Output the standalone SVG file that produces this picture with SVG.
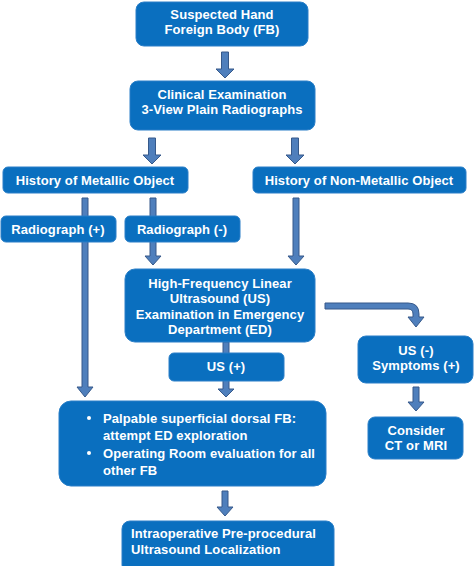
<svg xmlns="http://www.w3.org/2000/svg" width="474" height="566" viewBox="0 0 474 566">
<style>
.box{fill:#0a6fbf;stroke:#2a7fc8;stroke-width:1}
.t{font-family:"Liberation Sans",Arial,sans-serif;font-weight:bold;font-size:13px;letter-spacing:0.1px;fill:#ffffff;text-anchor:middle}
.tl{text-anchor:start}
.arr{fill:#4f7fbc;stroke:#36598a;stroke-width:1}
</style>
<rect width="474" height="566" fill="#ffffff"/>
<g id="connectors">
<path class="arr" d="M221.5,52 H228.5 V69 H234 L225,78 L216,69 H221.5 Z"/>
<path class="arr" d="M148.5,138 H155.5 V155 H161 L152,164 L143,155 H148.5 Z"/>
<path class="arr" d="M291.5,138 H298.5 V155 H304 L295,164 L286,155 H291.5 Z"/>
<path class="arr" d="M82,198 H88 V387 H93 L85,397 L77,387 H82 Z"/>
<path class="arr" d="M150,198 H156 V256 H161 L153,265 L145,256 H150 Z"/>
<path class="arr" d="M293,198 H299 V256 H304 L296,265 L288,256 H293 Z"/>
<path class="arr" d="M223,342 H229 V389 H234 L226,397 L218,389 H223 Z"/>
<path class="arr" d="M325,303 H408 Q419,303 419,314 V317 H424 L416,327 L408,317 H413 V314 Q413,309 408,309 H325 Z"/>
<path class="arr" d="M413,387 H419 V402 H424 L416,411 L408,402 H413 Z"/>
<path class="arr" d="M222,491 H228 V507 H233 L225,516 L217,507 H222 Z"/>
</g>
<g id="n1"><rect class="box" x="136" y="2" width="172" height="44" rx="8"/>
<text class="t" x="222" y="18.5">Suspected Hand</text><text class="t" x="222" y="33.5">Foreign Body (FB)</text></g>
<g id="n2"><rect class="box" x="130" y="81" width="185" height="49" rx="8"/>
<text class="t" x="222" y="98.5">Clinical Examination</text><text class="t" x="222" y="113.5">3-View Plain Radiographs</text></g>
<g id="n3"><rect class="box" x="3" y="167" width="185" height="26" rx="5"/>
<text class="t" x="95" y="184.5">History of Metallic Object</text></g>
<g id="n4"><rect class="box" x="253" y="167" width="213" height="26" rx="5"/>
<text class="t" x="359" y="184.5">History of Non-Metallic Object</text></g>
<g id="n5"><rect class="box" x="1" y="216" width="115" height="26" rx="5"/>
<text class="t" x="58" y="233.5">Radiograph (+)</text></g>
<g id="n6"><rect class="box" x="125" y="216" width="115" height="26" rx="5"/>
<text class="t" x="182" y="233.5">Radiograph (-)</text></g>
<g id="n7"><rect class="box" x="125" y="269" width="190" height="73" rx="10"/>
<text class="t" x="220" y="287.5">High-Frequency Linear</text><text class="t" x="220" y="303">Ultrasound (US)</text><text class="t" x="220" y="318.5">Examination in Emergency</text><text class="t" x="220" y="333.5">Department (ED)</text></g>
<g id="n8"><rect class="box" x="169" y="353" width="115" height="28" rx="5"/>
<text class="t" x="226" y="370.5">US (+)</text></g>
<g id="n9"><rect class="box" x="358" y="336" width="115" height="47" rx="8"/>
<text class="t" x="416" y="354.5">US (-)</text><text class="t" x="416" y="369.5">Symptoms (+)</text></g>
<g id="n10"><rect class="box" x="368" y="417" width="95" height="42" rx="7"/>
<text class="t" x="416" y="434.5">Consider</text><text class="t" x="416" y="449.5">CT or MRI</text></g>
<g id="n11"><rect class="box" x="59" y="401" width="267" height="85" rx="12"/>
<circle cx="89" cy="418" r="2" fill="#ffffff"/><circle cx="89" cy="453" r="2" fill="#ffffff"/>
<text class="t tl" x="103" y="422.5">Palpable superficial dorsal FB:</text>
<text class="t tl" x="103" y="439.5">attempt ED exploration</text>
<text class="t tl" x="103" y="457.5">Operating Room evaluation for all</text>
<text class="t tl" x="103" y="474.5">other FB</text></g>
<g id="n12"><rect class="box" x="122" y="521" width="212" height="52" rx="8"/>
<text class="t tl" x="131" y="537.5">Intraoperative Pre-procedural</text>
<text class="t tl" x="131" y="553.5">Ultrasound Localization</text></g>
</svg>
